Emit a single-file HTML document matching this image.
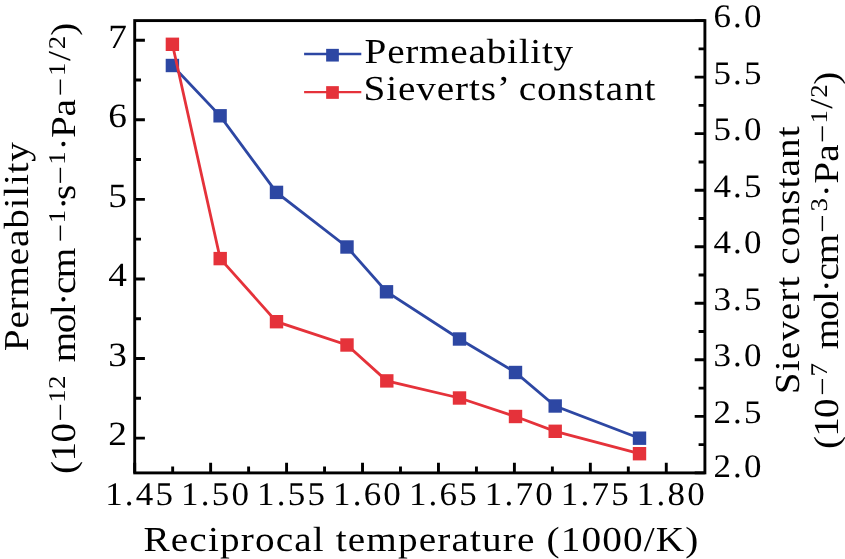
<!DOCTYPE html>
<html><head><meta charset="utf-8"><style>
html,body{margin:0;padding:0;background:#fff;width:845px;height:559px;overflow:hidden}
svg{display:block;will-change:transform}
text{font-family:"Liberation Serif", serif;font-size:35px;fill:#000;text-rendering:geometricPrecision}
</style></head><body>
<svg width="845" height="559" viewBox="0 0 845 559">
<rect width="845" height="559" fill="#fff"/>
<polyline points="172.4,65.5 220.1,115.8 276.5,192.4 347.0,247.0 386.5,291.8 459.5,339.0 515.5,372.5 555.2,406.0 639.5,438.2" fill="none" stroke="#2d47a3" stroke-width="2.8"/>
<rect x="165.70" y="58.80" width="13.4" height="13.4" fill="#2d47a3"/><rect x="213.40" y="109.10" width="13.4" height="13.4" fill="#2d47a3"/><rect x="269.80" y="185.70" width="13.4" height="13.4" fill="#2d47a3"/><rect x="340.30" y="240.30" width="13.4" height="13.4" fill="#2d47a3"/><rect x="379.80" y="285.10" width="13.4" height="13.4" fill="#2d47a3"/><rect x="452.80" y="332.30" width="13.4" height="13.4" fill="#2d47a3"/><rect x="508.80" y="365.80" width="13.4" height="13.4" fill="#2d47a3"/><rect x="548.50" y="399.30" width="13.4" height="13.4" fill="#2d47a3"/><rect x="632.80" y="431.50" width="13.4" height="13.4" fill="#2d47a3"/>
<polyline points="172.4,44.3 220.2,258.6 276.5,321.7 347.0,345.0 386.8,380.9 459.5,398.0 515.5,416.5 555.2,431.3 639.5,453.7" fill="none" stroke="#e5323a" stroke-width="2.8"/>
<rect x="165.70" y="37.60" width="13.4" height="13.4" fill="#e5323a"/><rect x="213.50" y="251.90" width="13.4" height="13.4" fill="#e5323a"/><rect x="269.80" y="315.00" width="13.4" height="13.4" fill="#e5323a"/><rect x="340.30" y="338.30" width="13.4" height="13.4" fill="#e5323a"/><rect x="380.10" y="374.20" width="13.4" height="13.4" fill="#e5323a"/><rect x="452.80" y="391.30" width="13.4" height="13.4" fill="#e5323a"/><rect x="508.80" y="409.80" width="13.4" height="13.4" fill="#e5323a"/><rect x="548.50" y="424.60" width="13.4" height="13.4" fill="#e5323a"/><rect x="632.80" y="447.00" width="13.4" height="13.4" fill="#e5323a"/>
<rect x="134.7" y="20.6" width="570.20" height="452.30" fill="none" stroke="#000" stroke-width="2.9"/>
<path d="M134.70 40.20L144.90 40.20 M134.70 119.78L144.90 119.78 M134.70 199.36L144.90 199.36 M134.70 278.94L144.90 278.94 M134.70 358.52L144.90 358.52 M134.70 438.10L144.90 438.10 M134.70 79.99L141.00 79.99 M134.70 159.57L141.00 159.57 M134.70 239.15L141.00 239.15 M134.70 318.73L141.00 318.73 M134.70 398.31L141.00 398.31 M704.90 472.90L694.70 472.90 M704.90 416.36L694.70 416.36 M704.90 359.82L694.70 359.82 M704.90 303.28L694.70 303.28 M704.90 246.74L694.70 246.74 M704.90 190.20L694.70 190.20 M704.90 133.66L694.70 133.66 M704.90 77.12L694.70 77.12 M704.90 20.58L694.70 20.58 M704.90 444.63L698.60 444.63 M704.90 388.09L698.60 388.09 M704.90 331.55L698.60 331.55 M704.90 275.01L698.60 275.01 M704.90 218.47L698.60 218.47 M704.90 161.93L698.60 161.93 M704.90 105.39L698.60 105.39 M704.90 48.85L698.60 48.85 M134.70 472.90L134.70 462.70 M210.64 472.90L210.64 462.70 M286.58 472.90L286.58 462.70 M362.52 472.90L362.52 462.70 M438.46 472.90L438.46 462.70 M514.40 472.90L514.40 462.70 M590.34 472.90L590.34 462.70 M666.28 472.90L666.28 462.70 M172.67 472.90L172.67 466.60 M248.61 472.90L248.61 466.60 M324.55 472.90L324.55 466.60 M400.49 472.90L400.49 466.60 M476.43 472.90L476.43 466.60 M552.37 472.90L552.37 466.60 M628.31 472.90L628.31 466.60" stroke="#000" stroke-width="2.9" fill="none"/>
<path d="M304.1 54.05H361.3" stroke="#2d47a3" stroke-width="2.4"/><rect x="326.15" y="48.85" width="12.7" height="12.7" fill="#2d47a3"/><path d="M304.1 92.1H361.3" stroke="#e5323a" stroke-width="2.4"/><rect x="326.15" y="86.15" width="12.7" height="12.7" fill="#e5323a"/>
<text transform="translate(128.08,47.53) scale(1.0673,0.9716)" text-anchor="end" letter-spacing="1.000">7</text><text transform="translate(128.08,127.11) scale(1.0673,0.9716)" text-anchor="end" letter-spacing="1.000">6</text><text transform="translate(128.08,206.69) scale(1.0673,0.9716)" text-anchor="end" letter-spacing="1.000">5</text><text transform="translate(128.08,286.27) scale(1.0673,0.9716)" text-anchor="end" letter-spacing="1.000">4</text><text transform="translate(128.08,365.85) scale(1.0673,0.9716)" text-anchor="end" letter-spacing="1.000">3</text><text transform="translate(128.08,445.43) scale(1.0673,0.9716)" text-anchor="end" letter-spacing="1.000">2</text><text transform="translate(713.56,476.60) scale(1.0000,0.9379)" text-anchor="start" letter-spacing="2.062">2.0</text><text transform="translate(713.56,423.03) scale(1.0000,0.9379)" text-anchor="start" letter-spacing="2.062">2.5</text><text transform="translate(713.56,366.49) scale(1.0000,0.9379)" text-anchor="start" letter-spacing="2.062">3.0</text><text transform="translate(713.56,309.95) scale(1.0000,0.9379)" text-anchor="start" letter-spacing="2.062">3.5</text><text transform="translate(713.56,253.41) scale(1.0000,0.9379)" text-anchor="start" letter-spacing="2.062">4.0</text><text transform="translate(713.56,196.87) scale(1.0000,0.9379)" text-anchor="start" letter-spacing="2.062">4.5</text><text transform="translate(713.56,140.33) scale(1.0000,0.9379)" text-anchor="start" letter-spacing="2.062">5.0</text><text transform="translate(713.56,83.79) scale(1.0000,0.9379)" text-anchor="start" letter-spacing="2.062">5.5</text><text transform="translate(713.56,27.25) scale(1.0000,0.9379)" text-anchor="start" letter-spacing="2.062">6.0</text><text transform="translate(140.20,505.00) scale(1.0000,0.9448)" text-anchor="middle" letter-spacing="2.222">1.45</text><text transform="translate(216.14,505.00) scale(1.0000,0.9448)" text-anchor="middle" letter-spacing="2.222">1.50</text><text transform="translate(292.08,505.00) scale(1.0000,0.9448)" text-anchor="middle" letter-spacing="2.222">1.55</text><text transform="translate(368.02,505.00) scale(1.0000,0.9448)" text-anchor="middle" letter-spacing="2.222">1.60</text><text transform="translate(443.96,505.00) scale(1.0000,0.9448)" text-anchor="middle" letter-spacing="2.222">1.65</text><text transform="translate(519.90,505.00) scale(1.0000,0.9448)" text-anchor="middle" letter-spacing="2.222">1.70</text><text transform="translate(595.84,505.00) scale(1.0000,0.9448)" text-anchor="middle" letter-spacing="2.222">1.75</text><text transform="translate(671.78,505.00) scale(1.0000,0.9448)" text-anchor="middle" letter-spacing="2.222">1.80</text><text transform="translate(421.50,550.80) scale(1.1200,1.0000)" text-anchor="middle" letter-spacing="1.030">Reciprocal temperature (1000/K)</text><text transform="translate(28.10,246.25) rotate(-90) scale(1.1200,1.0000)" text-anchor="middle" letter-spacing="0.716">Permeability</text><text transform="translate(798.50,259.75) rotate(-90) scale(1.1200,1.0000)" text-anchor="middle" letter-spacing="0.970">Sievert constant</text><text transform="translate(364.60,63.10) scale(1.1200,1.0000)" text-anchor="start" letter-spacing="0.675">Permeability</text><text transform="translate(363.60,100.00) scale(1.1200,1.0000)" text-anchor="start" letter-spacing="0.790">Sieverts’ constant</text><text transform="translate(75.10,448.80) rotate(-90) scale(1.1200,1.0000)" text-anchor="middle" letter-spacing="-0.562">(10</text><text transform="translate(64.80,398.40) rotate(-90) scale(1.1200,1.0000)" text-anchor="middle" letter-spacing="0.277" style="font-size:24px"><tspan font-size="29" dy="4.8">−</tspan><tspan dy="-4.8">12</tspan></text><text transform="translate(75.10,305.70) rotate(-90) scale(1.1200,1.0000)" text-anchor="middle" letter-spacing="-1.321">mol·cm</text><text transform="translate(64.80,225.80) rotate(-90) scale(1.1200,1.0000)" text-anchor="middle" letter-spacing="0.500" style="font-size:24px"><tspan font-size="29" dy="4.8">−</tspan><tspan dy="-4.8">1</tspan></text><text transform="translate(75.10,199.00) rotate(-90) scale(1.1200,1.0000)" text-anchor="middle" letter-spacing="-3.018">·s</text><text transform="translate(64.80,167.10) rotate(-90) scale(1.1200,1.0000)" text-anchor="middle" letter-spacing="1.393" style="font-size:24px"><tspan font-size="29" dy="4.8">−</tspan><tspan dy="-4.8">1</tspan></text><text transform="translate(75.10,125.00) rotate(-90) scale(1.1200,1.0000)" text-anchor="middle" letter-spacing="-0.339">·Pa</text><text transform="translate(64.80,65.10) rotate(-90) scale(1.1200,1.0000)" text-anchor="middle" letter-spacing="1.542" style="font-size:24px"><tspan font-size="29" dy="4.8">−</tspan><tspan dy="-4.8">1</tspan><tspan font-size="32" dy="5.0">/</tspan><tspan dy="-5.0">2</tspan></text><text transform="translate(75.10,28.60) rotate(-90) scale(1.1200,1.0000)" text-anchor="middle" letter-spacing="1.000">)</text><text transform="translate(837.50,424.10) rotate(-90) scale(1.1200,1.0000)" text-anchor="middle" letter-spacing="-0.786">(10</text><text transform="translate(827.20,378.90) rotate(-90) scale(1.1200,1.0000)" text-anchor="middle" letter-spacing="0.946" style="font-size:24px"><tspan font-size="29" dy="4.8">−</tspan><tspan dy="-4.8">7</tspan></text><text transform="translate(837.50,292.20) rotate(-90) scale(1.1200,1.0000)" text-anchor="middle" letter-spacing="-1.143">mol·cm</text><text transform="translate(827.20,213.90) rotate(-90) scale(1.1200,1.0000)" text-anchor="middle" letter-spacing="2.732" style="font-size:24px"><tspan font-size="29" dy="4.8">−</tspan><tspan dy="-4.8">3</tspan></text><text transform="translate(837.50,170.60) rotate(-90) scale(1.1200,1.0000)" text-anchor="middle" letter-spacing="0.330">·Pa</text><text transform="translate(827.20,113.00) rotate(-90) scale(1.1200,1.0000)" text-anchor="middle" letter-spacing="1.095" style="font-size:24px"><tspan font-size="29" dy="4.8">−</tspan><tspan dy="-4.8">1</tspan><tspan font-size="32" dy="5.0">/</tspan><tspan dy="-5.0">2</tspan></text><text transform="translate(837.50,77.60) rotate(-90) scale(1.1200,1.0000)" text-anchor="middle" letter-spacing="1.000">)</text>
</svg>
</body></html>
